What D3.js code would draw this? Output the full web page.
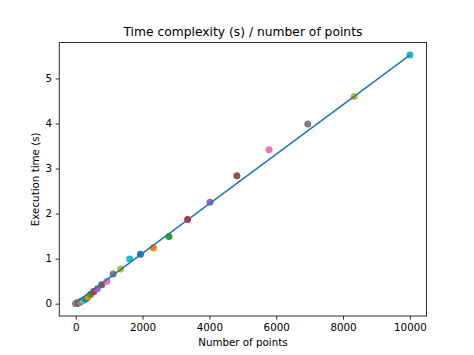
<!DOCTYPE html>
<html>
<head>
<meta charset="utf-8">
<script src="https://cdn.jsdelivr.net/npm/d3@7"></script>
<style>
  html, body { margin: 0; padding: 0; background: #fff; }
  svg { display: block; }
  text { font-family: "DejaVu Sans", sans-serif; fill: #000; }
</style>
</head>
<body>
<svg id="chart" width="474" height="355"></svg>
<script>
// ---- data ----
const numPoints = [8.2, 9.8, 11.8, 14.1, 16.9, 20.3, 24.4, 29.3, 35.1, 42.1,
  50.6, 60.7, 72.8, 87.4, 104.8, 125.8, 151.0, 181.2, 217.4, 260.8,
  313.0, 375.6, 450.7, 540.9, 649.1, 778.9, 934.7, 1121.6, 1345.9, 1615.1,
  1938.1, 2325.7, 2790.8, 3349.0, 4018.8, 4822.5, 5787.0, 6944.4, 8333.3, 10000];
const execTime = [0.0025, 0.003, 0.0035, 0.004, 0.005, 0.006, 0.007, 0.008, 0.010, 0.012,
  0.015, 0.018, 0.022, 0.027, 0.033, 0.040, 0.050, 0.062, 0.075, 0.09,
  0.11, 0.15, 0.21, 0.27, 0.33, 0.42, 0.50, 0.66, 0.77, 0.99,
  1.10, 1.24, 1.49, 1.87, 2.25, 2.84, 3.42, 3.99, 4.60, 5.52];
const fitX = [8.2, 10000];
const fitY = [0.025, 5.52];
const xTicks = [0, 2000, 4000, 6000, 8000, 10000];
const yTicks = [0, 1, 2, 3, 4, 5];
const palette = ['#1f77b4','#ff7f0e','#2ca02c','#d62728','#9467bd','#8c564b','#e377c2','#7f7f7f','#bcbd22','#17becf'];
const titleText = "Time complexity (s) / number of points";
const xLabel = "Number of points";
const yLabel = "Execution time (s)";

// ---- layout ----
const W = 474, H = 355;
const L = 59.25, R = 426.6, T = 42.6, B = 316;
const svg = d3.select("#chart");

const xMin = d3.min(numPoints), xMax = d3.max(numPoints);
const yMin = d3.min(execTime), yMax = d3.max(execTime);
const xm = (xMax - xMin) * 0.05, ym = (yMax - yMin) * 0.05;
const x = d3.scaleLinear().domain([xMin - xm, xMax + xm]).range([L, R]);
const y = d3.scaleLinear().domain([yMin - ym, yMax + ym]).range([B, T]);

// points (drawn first, line above as matplotlib zorder)
const pts = numPoints.map((v, i) => ({x: v, y: execTime[i], c: palette[i % 10]}));
svg.append("g").selectAll("circle").data(pts).join("circle")
  .attr("cx", d => x(d.x)).attr("cy", d => y(d.y))
  .attr("r", 3.5).attr("fill", d => d.c);

// fit line
svg.append("path")
  .datum(fitX.map((v, i) => [v, fitY[i]]))
  .attr("d", d3.line().x(d => x(d[0])).y(d => y(d[1])))
  .attr("fill", "none").attr("stroke", "#1f77b4").attr("stroke-width", 1.54);

// axes
const xAxis = d3.axisBottom(x).tickValues(xTicks).tickSize(3.6).tickPadding(3.6).tickFormat(d3.format("d"));
const yAxis = d3.axisLeft(y).tickValues(yTicks).tickSize(3.6).tickPadding(3.6).tickFormat(d3.format("d"));
const gx = svg.append("g").attr("transform", `translate(0,${B})`).call(xAxis);
const gy = svg.append("g").attr("transform", `translate(${L},0)`).call(yAxis);
[gx, gy].forEach(g => {
  g.select(".domain").remove();
  g.selectAll(".tick line").attr("stroke", "#000").attr("stroke-width", 0.82);
  g.selectAll(".tick text").attr("font-size", "10.3px").attr("fill", "#000")
    .style("font-family", "'DejaVu Sans', sans-serif");
});

// frame
svg.append("rect").attr("x", L).attr("y", T).attr("width", R - L).attr("height", B - T)
  .attr("fill", "none").attr("stroke", "#000").attr("stroke-width", 0.82);

// title & labels
svg.append("text").attr("x", (L + R) / 2).attr("y", T - 6.5)
  .attr("text-anchor", "middle").attr("font-size", "12.3px").text(titleText);
svg.append("text").attr("x", (L + R) / 2).attr("y", 345.5)
  .attr("text-anchor", "middle").attr("font-size", "10.3px").text(xLabel);
svg.append("text").attr("transform", `translate(38.5,${(T + B) / 2}) rotate(-90)`)
  .attr("text-anchor", "middle").attr("font-size", "10.3px").text(yLabel);
</script>
</body>
</html>
